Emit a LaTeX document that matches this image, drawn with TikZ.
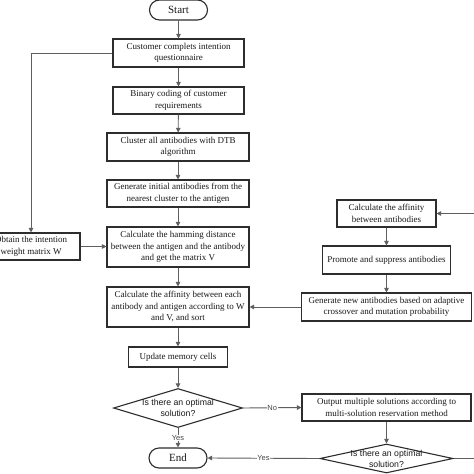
\documentclass[tikz,border=0pt]{standalone}
\usepackage{fontspec}
\setmainfont{Liberation Serif}
\newfontfamily\arialfont{Liberation Sans}
\usetikzlibrary{shapes.geometric,shapes.misc,arrows.meta}
\definecolor{boxline}{RGB}{45,45,45}
\definecolor{connline}{RGB}{95,95,95}
\definecolor{txt}{RGB}{25,25,25}
\tikzset{
  proc/.style={draw=boxline, line width=1.1pt, rectangle, inner sep=0pt, align=center,
    text=txt, font=\fontsize{9}{11.5}\selectfont},
  term/.style={draw=boxline, line width=1.1pt, rounded rectangle, inner sep=0pt,
    minimum width=58pt, minimum height=20pt, text=txt, font=\fontsize{11}{13}\selectfont},
  decision/.style={draw=boxline, line width=1.1pt, diamond, inner sep=0pt},
  dtext/.style={align=center, text=txt, inner sep=0pt, font=\arialfont\fontsize{8.7}{11}\selectfont},
  lbl/.style={fill=white, inner sep=0.6pt, text=txt!80, font=\arialfont\fontsize{7.5}{9}\selectfont},
  conn/.style={draw=connline, line width=0.9pt},
  arr/.style={conn, -{Triangle[length=4.5pt,width=4.5pt]}},
}
\begin{document}
\begin{tikzpicture}[x=1pt,y=-1pt]
\useasboundingbox (0,0) rectangle (474,474);
\fill[white] (0,0) rectangle (474,474);
\clip (0,0) rectangle (474,474);
% main column
\node[term] (start) at (178.5,10) {Start};
\node[proc, minimum width=131pt, minimum height=28pt] (b1) at (178.5,53) {Customer complets intention\\questionnaire};
\node[proc, minimum width=131pt, minimum height=27pt] (b2) at (178.5,100.5) {Binary coding of customer\\requirements};
\node[proc, minimum width=142pt, minimum height=28pt] (b3) at (178,147) {Cluster all antibodies with DTB\\algorithm};
\node[proc, minimum width=142pt, minimum height=27pt] (b4) at (178,193.5) {Generate initial antibodies from the\\nearest cluster to the antigen};
\node[proc, minimum width=142pt, minimum height=40pt] (b5) at (178,247) {Calculate the hamming distance\\between the antigen and the antibody\\and get the matrix V};
\node[proc, minimum width=142pt, minimum height=40pt] (b6) at (178,307) {Calculate the affinity between each\\antibody and antigen according to W\\and V, and sort};
\node[proc, minimum width=99pt, minimum height=20pt] (b7) at (178,357) {Update memory cells};
\node[decision, minimum width=129pt, minimum height=39pt] (d1) at (178,408) {};
\node[dtext] (d1t) at (d1) {Is there an optimal\\solution?};
\node[term] (end) at (178,458) {End};
% left box
\node[proc, minimum width=98pt, minimum height=27pt] (lw) at (31,246.5) {Obtain the intention\\weight matrix W};
% right column
\node[proc, minimum width=99pt, minimum height=27pt] (r1) at (386.5,213.5) {Calculate the affinity\\between antibodies};
\node[proc, minimum width=128pt, minimum height=28pt] (r2) at (386.5,260) {Promote and suppress antibodies};
\node[proc, minimum width=170pt, minimum height=28pt] (r3) at (386.5,307) {Generate new antibodies based on adaptive\\crossover and mutation probability};
\node[proc, minimum width=169pt, minimum height=27pt] (r4) at (386.5,407.5) {Output multiple solutions according to\\multi-solution reservation method};
\node[decision, minimum width=133pt, minimum height=29pt] (d2) at (386.5,458.5) {};
\node[dtext] (d2t) at (d2) {Is there an optimal\\solution?};
\coordinate (loopA) at (482,458.5);
\coordinate (loopB) at (482,213.5);
\coordinate (leftC) at (31,53);
% connectors
\draw[arr] (start) -- (b1);
\draw[arr] (b1) -- (b2);
\draw[arr] (b2) -- (b3);
\draw[arr] (b3) -- (b4);
\draw[arr] (b4) -- (b5);
\draw[arr] (b5) -- (b6);
\draw[arr] (b6) -- (b7);
\draw[arr] (b7) -- (d1);
\draw[arr] (d1.south) -- node[lbl] {Yes} (end.north);
\draw[arr] (d1.east) -- node[lbl] {No} (r4.west);
\draw[arr] (r4) -- (d2.north);
\draw[arr] (d2.west) -- node[lbl] {Yes} (end.east);
\draw[arr] (d2.east) -- (loopA) -- (loopB) -- (r1.east);
\draw[arr] (r1) -- (r2);
\draw[arr] (r2) -- (r3);
\draw[arr] (r3.west) -- (b6.east);
\draw[arr] (b1.west) -- (leftC) -- (lw.north);
\draw[arr] (lw.east) -- (lw.east -| b5.west);
\end{tikzpicture}
\end{document}
